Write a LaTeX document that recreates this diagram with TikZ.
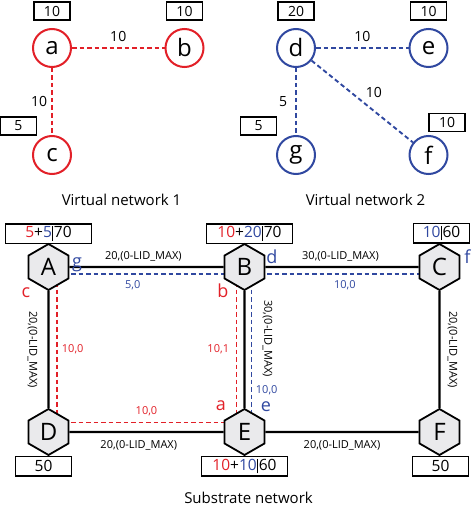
\documentclass[tikz,border=0pt]{standalone}
\usepackage{fontspec}
\setmainfont{Open Sans}
\usepackage{tikz}
\usetikzlibrary{positioning,shapes.geometric,backgrounds}
\definecolor{vnred}{RGB}{226,32,40}
\definecolor{vnblue}{RGB}{48,72,160}
\definecolor{hexgray}{RGB}{234,234,236}
\newcommand{\trenn}{\hspace{0.5pt}\vrule width 1pt height 11.5pt depth 3pt\hspace{0.5pt}}
\tikzset{
    %Define style for virtual nodes
    vnodeR/.style={circle,draw=vnred,line width=2pt,minimum size=38pt,inner sep=0pt,
           font=\fontsize{24}{24}\selectfont},
    vnodeB/.style={vnodeR,draw=vnblue},
    %Define style for substrate nodes
    substN/.style={regular polygon,regular polygon sides=6,shape border rotate=30,
           fill=hexgray,draw=black,line width=1.8pt,minimum size=46pt,inner sep=0pt,
           font=\fontsize{24}{24}\selectfont},
    %Define style for capacity boxes
    kasten/.style={rectangle,draw=black,line width=1.5pt,minimum width=36pt,
           minimum height=18pt,inner sep=1pt,font=\fontsize{14}{14}\selectfont},
    skasten/.style={kasten,minimum width=56pt,minimum height=19.5pt,
           font=\fontsize{15.5}{15.5}\selectfont},
    wkasten/.style={skasten,minimum width=86pt},
    % Define link styles
    vlinkR/.style={draw=vnred,dash pattern=on 4.5pt off 3pt,line width=1.9pt},
    vlinkB/.style={vlinkR,draw=vnblue},
    slink/.style={draw=black,line width=2.2pt},
    % Define label styles
    lbl/.style={inner sep=2pt,font=\fontsize{11}{13}\selectfont},
    vlbl/.style={inner sep=2pt,font=\fontsize{14}{16}\selectfont},
    maplbl/.style={inner sep=0pt,font=\fontsize{18}{18}\selectfont},
    titel/.style={font=\fontsize{15}{18}\selectfont}
}

\begin{document}
\begin{tikzpicture}[x=1pt,y=-1pt,on grid]
  \useasboundingbox (0,0) rectangle (474,508);
  % virtual network 1
  \node[vnodeR] (a) at (52,48) {a};
  \node[vnodeR] (b) [right=132.5pt of a] {b};
  \node[vnodeR] (c) [below=107pt of a] {c};
  \node[kasten] (ka) [above=37pt of a] {10};
  \node[kasten] (kb) [above=37pt of b] {10};
  \node[kasten] (kc) [above left=29pt and 33.5pt of c] {5};
  \node[titel] (t1) at (121.5,200) {Virtual network 1};
  % virtual network 2
  \node[vnodeB] (d) at (296,48) {d};
  \node[vnodeB] (e) [right=132.5pt of d] {e};
  \node[vnodeB] (g) [below=107pt of d] {g};
  \node[vnodeB] (f) [below=107pt of e] {f};
  \node[kasten] (kd) [above=37pt of d] {20};
  \node[kasten] (ke) [above=37pt of e] {10};
  \node[kasten] (kf) [above right=32.5pt and 18.5pt of f] {10};
  \node[kasten] (kg) [above left=29pt and 37.5pt of g] {5};
  \node[titel] (t2) at (365.5,200) {Virtual network 2};
  % substrate network
  \node[substN] (A) at (48.5,267) {A};
  \node[substN] (B) [right=196pt of A] {B};
  \node[substN] (C) [right=195pt of B] {C};
  \node[substN] (D) [below=165pt of A] {D};
  \node[substN] (E) [right=196pt of D] {E};
  \node[substN] (F) [right=195pt of E] {F};
  \node[wkasten] (kA) [above=33.5pt of A] {{\color{vnred}5}+{\color{vnblue}5}\trenn 70};
  \node[wkasten] (kB) [above right=33.5pt and 5pt of B] {{\color{vnred}10}+{\color{vnblue}20}\trenn 70};
  \node[skasten] (kC) [above right=34pt and 2pt of C] {{\color{vnblue}10}\trenn 60};
  \node[skasten] (kD) [below left=34pt and 5pt of D] {50};
  \node[wkasten] (kE) [below=34pt of E] {{\color{vnred}10}+{\color{vnblue}10}\trenn 60};
  \node[skasten] (kF) [below right=34pt and 1pt of F] {50};
  \node[maplbl,vnblue] (mg) [above right=2.5pt and 28.5pt of A] {g};
  \node[maplbl,vnred] (mc) [below left=25.5pt and 22.5pt of A] {c};
  \node[maplbl,vnred] (mb) [below left=24pt and 21.5pt of B] {b};
  \node[maplbl,vnblue] (md) [above right=10.5pt and 27.5pt of B] {d};
  \node[maplbl,vnblue] (mf) [above right=10.5pt and 28pt of C] {f};
  \node[maplbl,vnred] (ma) [above left=26pt and 23.5pt of E] {a};
  \node[maplbl,vnblue] (me) [above right=25.5pt and 21.5pt of E] {e};
  \node[titel] (t3) [below right=66pt and 4pt of E] {Substrate network};

  \begin{pgfonlayer}{background}
  \path[vlinkR]
    (a) edge node[vlbl,above=3pt] {10} (b)
    (a) edge node[vlbl,left=2pt] {10} (c);
  \path[vlinkB]
    (d) edge node[vlbl,above=3pt] {10} (e)
    (d) edge node[vlbl,left=6pt] {5} (g)
    (d) edge node[vlbl,above right=1pt] {10} (f);
  \path[slink]
    (A) edge node[lbl,above=2.5pt,pos=0.48] {20,(0-LID\_MAX)} (B)
    (B) edge node[lbl,above=2.5pt,pos=0.49] {30,(0-LID\_MAX)} (C)
    (A) edge node[lbl,sloped,below=8pt] {20,(0-LID\_MAX)} (D)
    (B) edge node[lbl,sloped,above=15pt,pos=0.406] {30,(0-LID\_MAX)} (E)
    (C) edge node[lbl,sloped,above=5pt] {20,(0-LID\_MAX)} (F)
    (D) edge node[lbl,below=5.5pt,pos=0.45] {20,(0-LID\_MAX)} (E)
    (E) edge node[lbl,below=5.5pt] {20,(0-LID\_MAX)} (F);
  \path[vlinkB]
    ([yshift=-7pt]A.center) edge node[lbl,vnblue,below=3.5pt,pos=0.43] {5,0} ([yshift=-7pt]B.center)
    ([yshift=-7pt]B.center) edge node[lbl,vnblue,below=3.5pt,pos=0.515] {10,0} ([yshift=-7pt]C.center)
    ([xshift=7pt]B.center) edge node[lbl,vnblue,right=1.5pt,pos=0.745] {10,0} ([xshift=7pt]E.center);
  \path[vlinkR]
    ([xshift=8.5pt]A.center) edge node[lbl,vnred,right=2pt] {10,0} ([xshift=8.5pt]D.center)
    ([yshift=9.5pt]D.center) edge node[lbl,vnred,above=4pt] {10,0} ([yshift=9.5pt]E.center)
    ([xshift=-8pt]B.center) edge node[lbl,vnred,left=4.5pt] {10,1} ([xshift=-8pt]E.center);
  \end{pgfonlayer}
\end{tikzpicture}
\end{document}
